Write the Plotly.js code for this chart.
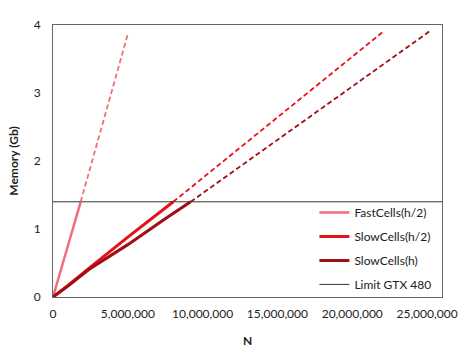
<!DOCTYPE html>
<html><head><meta charset="utf-8">
<script src="https://cdn.plot.ly/plotly-3.0.1.min.js"></script>
<style>html,body{margin:0;padding:0;background:#fff}#c{width:474px;height:353px}</style>
</head><body><div id="c"></div>
<script>
// Measured (solid) portions
var fastN = [0, 300000, 900000, 1850000];
var fastMem = [0, 0.22, 0.68, 1.40];
var slowHalfN = [0, 1000000, 2500000, 5000000, 8040000];
var slowHalfMem = [0, 0.17, 0.44, 0.88, 1.40];
var slowN = [0, 1000000, 2500000, 5000000, 7500000, 9200000];
var slowMem = [0, 0.16, 0.42, 0.77, 1.15, 1.40];
// Extrapolated (dashed) portions
var fastExtN = [1850000, 5030000];
var fastExtMem = [1.40, 3.89];
var slowHalfExtN = [8040000, 22000000];
var slowHalfExtMem = [1.40, 3.89];
var slowExtN = [9200000, 25250000];
var slowExtMem = [1.40, 3.92];
// GPU memory limit
var limitN = [0, 26000000];
var limitMem = [1.4, 1.4];
var xTicks = [0, 5000000, 10000000, 15000000, 20000000, 25000000];
var xTickText = ["0", "5,000,000", "10,000,000", "15,000,000", "20,000,000", "25,000,000"];
var yTicks = [0, 1, 2, 3, 4];

var cFast = '#F26D78', cHalf = '#E8101A', cSlow = '#9E0E14', cLim = '#333333';
var data = [
  {x: fastN, y: fastMem, mode: 'lines', name: 'FastCells(h/2)', legendgroup: 'a', line: {color: cFast, width: 2.5}},
  {x: slowHalfN, y: slowHalfMem, mode: 'lines', name: 'SlowCells(h/2)', legendgroup: 'b', line: {color: cHalf, width: 3}},
  {x: slowN, y: slowMem, mode: 'lines', name: 'SlowCells(h)', legendgroup: 'c', line: {color: cSlow, width: 3}},
  {x: limitN, y: limitMem, mode: 'lines', name: 'Limit GTX 480', legendgroup: 'd', line: {color: cLim, width: 1}},
  {x: fastExtN, y: fastExtMem, mode: 'lines', showlegend: false, legendgroup: 'a', line: {color: cFast, width: 1.8, dash: '5px,3px'}},
  {x: slowHalfExtN, y: slowHalfExtMem, mode: 'lines', showlegend: false, legendgroup: 'b', line: {color: cHalf, width: 1.8, dash: '5px,3px'}},
  {x: slowExtN, y: slowExtMem, mode: 'lines', showlegend: false, legendgroup: 'c', line: {color: cSlow, width: 1.8, dash: '5px,3px'}}
];
var layout = {
  width: 474, height: 353,
  margin: {l: 53, r: 32, t: 25, b: 56},
  paper_bgcolor: '#fff', plot_bgcolor: '#fff',
  font: {family: 'Lato, "Open Sans", sans-serif', size: 12, color: '#222'},
  showlegend: true,
  legend: {x: 0.672, xanchor: 'left', y: -0.007, yanchor: 'bottom', bgcolor: 'rgba(0,0,0,0)',
           traceorder: 'grouped', tracegroupgap: 5, font: {size: 12, color: '#222'}},
  xaxis: {range: [0, 26000000], tickvals: xTicks, ticktext: xTickText, showgrid: false, zeroline: false,
          showline: true, linecolor: '#666', linewidth: 1, mirror: true, ticks: '', ticklabelstandoff: 6,
          title: {text: '<b>N</b>', font: {size: 12}, standoff: 16}},
  yaxis: {range: [0, 4], tickvals: yTicks, showgrid: false, zeroline: false,
          showline: true, linecolor: '#666', linewidth: 1, mirror: true, ticks: '', ticklabelstandoff: 9,
          title: {text: '<b>Memory (Gb)</b>', font: {size: 12}, standoff: 12}}
};
Plotly.newPlot('c', data, layout, {staticPlot: true, displayModeBar: false});
</script></body></html>
